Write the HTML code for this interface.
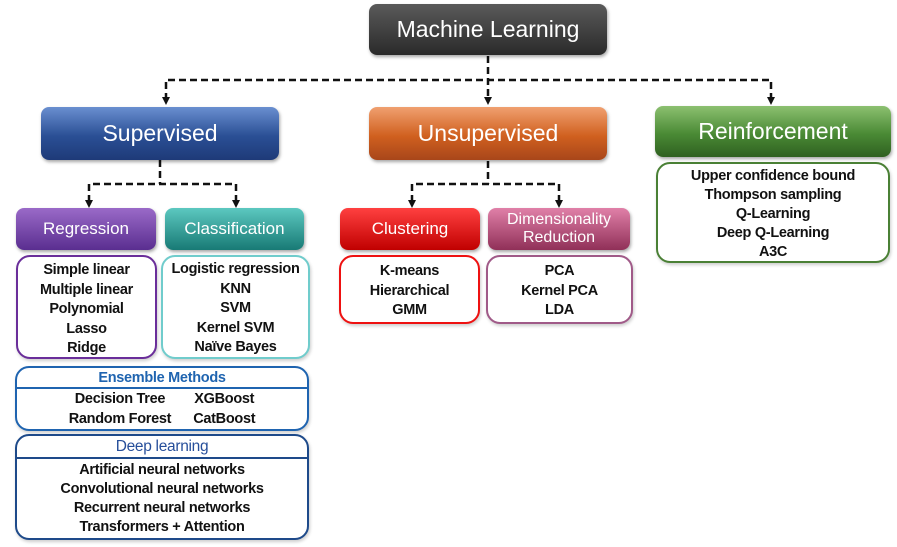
<!DOCTYPE html>
<html><head><meta charset="utf-8"><style>
body{margin:0;width:897px;height:547px;background:#fff;position:relative;overflow:hidden;font-family:"Liberation Sans",sans-serif}
.h{position:absolute;border-radius:8px;color:#fff;text-align:center;box-shadow:1px 2px 3px rgba(0,0,0,.35);display:flex;align-items:center;justify-content:center;line-height:1.1}
.b{position:absolute;border:2px solid;border-radius:14px;background:#fff;text-align:center;font-weight:bold;font-size:14.5px;color:#111;box-sizing:border-box;box-shadow:1px 2px 3px rgba(0,0,0,.2);letter-spacing:-0.3px}
svg{position:absolute;left:0;top:0}
</style></head><body>
<svg width="897" height="547">
<defs><marker id="a" markerWidth="8" markerHeight="8" refX="4" refY="6" orient="auto-start-reverse" markerUnits="userSpaceOnUse"><path d="M0,0 L8,0 L4,7z" fill="#111" transform="rotate(0)"/></marker></defs>
<g stroke="#111" stroke-width="2.5" stroke-dasharray="7,4" fill="none">
<path d="M488,56 V100"/>
<path d="M166,100 V80 H771 V100"/>
<path d="M160,160 V184 M89,202 V184 H236 V202"/>
<path d="M488,161 V184 M412,202 V184 H559 V202"/>
</g>
<g fill="#111">
<path d="M162,97 L170,97 L166,105z"/><path d="M484,97 L492,97 L488,105z"/><path d="M767,97 L775,97 L771,105z"/>
<path d="M85,200 L93,200 L89,208z"/><path d="M232,200 L240,200 L236,208z"/>
<path d="M408,200 L416,200 L412,208z"/><path d="M555,200 L563,200 L559,208z"/>
</g>
</svg>
<div class="h" style="left:369px;top:4px;width:238px;height:51px;background:linear-gradient(#5a5a5a,#2a2a2a);font-size:23px">Machine Learning</div>
<div class="h" style="left:41px;top:107px;width:238px;height:53px;background:linear-gradient(#6a8fd0,#2a4f95 55%,#1e3a78);font-size:23px">Supervised</div>
<div class="h" style="left:369px;top:107px;width:238px;height:53px;background:linear-gradient(#f0a070,#d0601f 55%,#a8461a);font-size:23px">Unsupervised</div>
<div class="h" style="left:655px;top:106px;width:236px;height:51px;background:linear-gradient(#8cc070,#4a8a35 55%,#2f6020);font-size:23px">Reinforcement</div>
<div class="h" style="left:16px;top:208px;width:140px;height:42px;background:linear-gradient(#9a6ac8,#5a2e90);font-size:17px">Regression</div>
<div class="h" style="left:165px;top:208px;width:139px;height:42px;background:linear-gradient(#5cc8c0,#187a75);font-size:17px">Classification</div>
<div class="h" style="left:340px;top:208px;width:140px;height:42px;background:linear-gradient(#ff4040,#c00000);font-size:17px">Clustering</div>
<div class="h" style="left:488px;top:208px;width:142px;height:42px;background:linear-gradient(#e080a8,#903058);font-size:16px">Dimensionality<br>Reduction</div>
<div class="b" style="left:16px;top:255px;width:141px;height:104px;border-color:#6a2e9a;padding-top:4px;line-height:19.5px">Simple linear<br>Multiple linear<br>Polynomial<br>Lasso<br>Ridge</div>
<div class="b" style="left:161px;top:255px;width:149px;height:104px;border-color:#70cccc;padding-top:3px;line-height:19.5px">Logistic regression<br>KNN<br>SVM<br>Kernel SVM<br>Naïve Bayes</div>
<div class="b" style="left:339px;top:255px;width:141px;height:69px;border-color:#ee1111;padding-top:5px;line-height:19.5px">K-means<br>Hierarchical<br>GMM</div>
<div class="b" style="left:486px;top:255px;width:147px;height:69px;border-color:#a05a88;padding-top:5px;line-height:19.5px">PCA<br>Kernel PCA<br>LDA</div>
<div class="b" style="left:656px;top:162px;width:234px;height:101px;border-color:#4a8035;padding-top:3px;line-height:19px">Upper confidence bound<br>Thompson sampling<br>Q-Learning<br>Deep Q-Learning<br>A3C</div>
<div class="b" style="left:15px;top:366px;width:294px;height:65px;border-color:#1f64b0">
<div style="height:19px;border-bottom:2px solid #1f64b0;color:#1f64b0;line-height:20px">Ensemble Methods</div>
<div style="display:flex;justify-content:center;gap:22px;line-height:19.5px;margin-top:1px"><div>Decision Tree<br>Random Forest</div><div>XGBoost<br>CatBoost</div></div></div>
<div class="b" style="left:15px;top:434px;width:294px;height:106px;border-color:#1e4a8a">
<div style="height:21px;border-bottom:2px solid #1e4a8a;color:#264e9a;line-height:22px;font-weight:normal;font-size:15.5px">Deep learning</div>
<div style="line-height:19px;margin-top:2px">Artificial neural networks<br>Convolutional neural networks<br>Recurrent neural networks<br>Transformers + Attention</div></div>
</body></html>
